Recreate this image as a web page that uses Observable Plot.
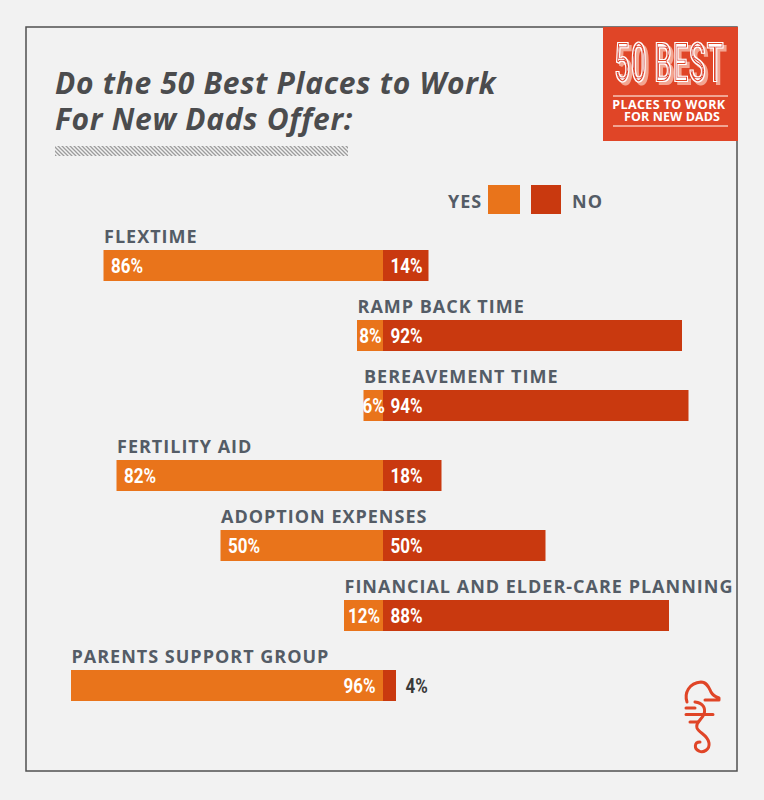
<!DOCTYPE html>
<html>
<head>
<meta charset="utf-8">
<script src="https://cdn.jsdelivr.net/npm/d3@7"></script>
<script src="https://cdn.jsdelivr.net/npm/@observablehq/plot@0.6"></script>
<style>
  html, body { margin: 0; padding: 0; background: #f2f2f2; }
  #page { position: relative; width: 764px; height: 800px; overflow: hidden; background: #f2f2f2; }
  #chart { position: absolute; left: 0; top: 0; }
  #deco { position: absolute; left: 0; top: 0; pointer-events: none; }
  .lbl { letter-spacing: 1px; }
</style>
</head>
<body>
<div id="page">
  <div id="chart"></div>
  <svg id="deco" width="764" height="800" viewBox="0 0 764 800">
    <defs>
      <pattern id="hatch" patternUnits="userSpaceOnUse" width="4" height="4">
        <path d="M0,0 L4,4 M-1,3 L1,5 M3,-1 L5,1" stroke="#9c9c9c" stroke-width="1.3"/>
      </pattern>
      <filter id="inline" x="-10%" y="-10%" width="130%" height="140%">
        <feOffset in="SourceAlpha" dx="5" dy="2.5" result="off"/>
        <feFlood flood-color="#f3a591"/>
        <feComposite in2="off" operator="in" result="shadow"/>
        <feMorphology in="SourceAlpha" operator="erode" radius="2.2 1.3" result="e1"/>
        <feMorphology in="SourceAlpha" operator="erode" radius="3.6 2.1" result="e2"/>
        <feComposite in="e1" in2="e2" operator="out" result="ring"/>
        <feFlood flood-color="#e04527"/>
        <feComposite in2="ring" operator="in" result="redring"/>
        <feMerge><feMergeNode in="shadow"/><feMergeNode in="SourceGraphic"/><feMergeNode in="redring"/></feMerge>
      </filter>
    </defs>
    <rect x="26" y="27" width="711" height="744" fill="none" stroke="#505050" stroke-width="1.5"/>
    <text font-family="Open Sans" font-weight="700" font-style="italic" font-size="30" fill="#4b4c4e" letter-spacing="0.7">
      <tspan x="55" y="94">Do the 50 Best Places to Work</tspan>
      <tspan x="55" y="130">For New Dads Offer:</tspan>
    </text>
    <rect x="55" y="146" width="293" height="10" fill="url(#hatch)"/>
    <g id="legend"></g>
    <g id="badge">
      <rect x="603" y="27" width="135" height="114" fill="#e04527"/>
      <text id="best" transform="translate(614,82) scale(0.52,1)" x="0" y="0" font-family="Roboto" font-weight="700" font-size="55" fill="#ffffff" filter="url(#inline)">50 BEST</text>
      <line x1="613" x2="728" y1="96" y2="96" stroke="#f7c6b9" stroke-width="1.5"/>
      <text text-anchor="middle" font-family="Open Sans" font-weight="700" font-size="12.5" fill="#ffffff">
        <tspan x="670.5" y="109" textLength="113" lengthAdjust="spacing">PLACES TO WORK</tspan>
        <tspan x="672" y="120.5" textLength="96" lengthAdjust="spacing">FOR NEW DADS</tspan>
      </text>
      <line x1="613" x2="728" y1="126" y2="126" stroke="#f7c6b9" stroke-width="1.5"/>
    </g>
    <g id="seahorse" fill="none" stroke="#e04527" stroke-width="3" stroke-linecap="round" stroke-linejoin="round">
      <path d="M687,702 C684,693 689,683 701,682 C707,682 709,688 711,692 C713,696 716,697 719,698 L719,700 L705,700"/>
      <path d="M695,702 C703,703 706,708 704,714 C702,720 695,722 697,728 C699,733 708,735 709,743 C710,750 703,753 699,751 C694,749 694,742 700,742"/>
      <path d="M686,708 L695,708 M686,714.5 L713,714.5 M690,722 L698,722"/>
    </g>
  </svg>
</div>
<script>
const categories = ["FLEXTIME", "RAMP BACK TIME", "BEREAVEMENT TIME", "FERTILITY AID", "ADOPTION EXPENSES", "FINANCIAL AND ELDER-CARE PLANNING", "PARENTS SUPPORT GROUP"];
const yesValues = [86, 8, 6, 82, 50, 12, 96];
const noValues = [14, 92, 94, 18, 50, 88, 4];
const seriesNames = ["YES", "NO"];
const seriesColors = ["#e9741b", "#c9390f"];

const rows = categories.map((c, i) => ({category: c, yes: yesValues[i], no: noValues[i]}));
const bars = rows.flatMap(d => [
  {category: d.category, series: seriesNames[0], x1: -d.yes, x2: 0},
  {category: d.category, series: seriesNames[1], x1: 0, x2: d.no}
]);

const xDomain = [-100, 100], xRange = [58, 708];
const xs = d3.scaleLinear(xDomain, xRange);
const px = v => Math.abs(xs(v) - xs(0));
const fmt = v => v + "%";

const noOutside = d => px(d.no) < 30;
const yesFits = d => px(d.yes) >= 45;

const pctStyle = {fontFamily: "Roboto", fontWeight: 700, fontSize: 20, lineAnchor: "middle", dy: 1};

const plot = Plot.plot({
  width: 764,
  height: 800,
  margin: 0,
  style: {background: "transparent", overflow: "visible"},
  x: {domain: xDomain, range: xRange, axis: null},
  y: {type: "band", domain: categories, range: [211, 740], padding: 0.557, axis: null},
  color: {domain: seriesNames, range: seriesColors},
  marks: [
    Plot.barX(bars, {y: "category", x1: "x1", x2: "x2", fill: "series"}),
    Plot.text(rows, {x: d => -d.yes, y: "category", text: "category", textAnchor: "start", lineAnchor: "bottom", dy: -23, fill: "#545c66", fontFamily: "Open Sans", fontWeight: 700, fontSize: 18}),
    Plot.text(rows.filter(d => yesFits(d) && !noOutside(d)), {...pctStyle, x: d => -d.yes, y: "category", text: d => fmt(d.yes), textAnchor: "start", dx: 7, fill: "#ffffff"}),
    Plot.text(rows.filter(d => yesFits(d) && noOutside(d)), {...pctStyle, x: 0, y: "category", text: d => fmt(d.yes), textAnchor: "end", dx: -8, fill: "#ffffff"}),
    Plot.text(rows.filter(d => !yesFits(d)), {...pctStyle, x: d => -d.yes / 2, y: "category", text: d => fmt(d.yes), textAnchor: "middle", fill: "#ffffff"}),
    Plot.text(rows.filter(d => !noOutside(d)), {...pctStyle, x: 0, y: "category", text: d => fmt(d.no), textAnchor: "start", dx: 7, fill: "#ffffff"}),
    Plot.text(rows.filter(d => noOutside(d)), {...pctStyle, x: d => d.no, y: "category", text: d => fmt(d.no), textAnchor: "start", dx: 9, fill: "#3a3a3a"})
  ]
});
document.getElementById("chart").appendChild(plot);

// style texts: letter-spaced category labels, horizontally condensed percentages
plot.querySelectorAll("text").forEach(t => {
  const s = t.textContent;
  if (categories.includes(s)) {
    t.style.letterSpacing = "1px";
  } else if (s.endsWith("%")) {
    const tr = t.getAttribute("transform");
    if (tr) t.setAttribute("transform", tr + " scale(0.85,1)");
    else {
      const x = +t.getAttribute("x") || 0;
      t.setAttribute("transform", `translate(${x},0) scale(0.85,1) translate(${-x},0)`);
    }
  }
});

// fit the badge headline to its box width
const best = document.getElementById("best");
const bw = best.getBBox().width;
if (bw > 0) best.setAttribute("transform", `translate(614,82) scale(${(110 / bw).toFixed(4)},1)`);

// legend
const ns = "http://www.w3.org/2000/svg";
const lg = document.getElementById("legend");
const legendItems = [
  {label: seriesNames[0], tx: 448, rx: 488, rw: 32, color: seriesColors[0]},
  {label: seriesNames[1], tx: 572, rx: 531, rw: 30, color: seriesColors[1]}
];
legendItems.forEach(it => {
  const r = document.createElementNS(ns, "rect");
  r.setAttribute("x", it.rx); r.setAttribute("y", 185);
  r.setAttribute("width", it.rw); r.setAttribute("height", 29);
  r.setAttribute("fill", it.color);
  lg.appendChild(r);
  const t = document.createElementNS(ns, "text");
  t.setAttribute("x", it.tx); t.setAttribute("y", 208);
  t.setAttribute("class", "lbl");
  t.setAttribute("font-family", "Open Sans");
  t.setAttribute("font-weight", "700");
  t.setAttribute("font-size", "18");
  t.setAttribute("fill", "#545c66");
  t.textContent = it.label;
  lg.appendChild(t);
});
</script>
</body>
</html>
